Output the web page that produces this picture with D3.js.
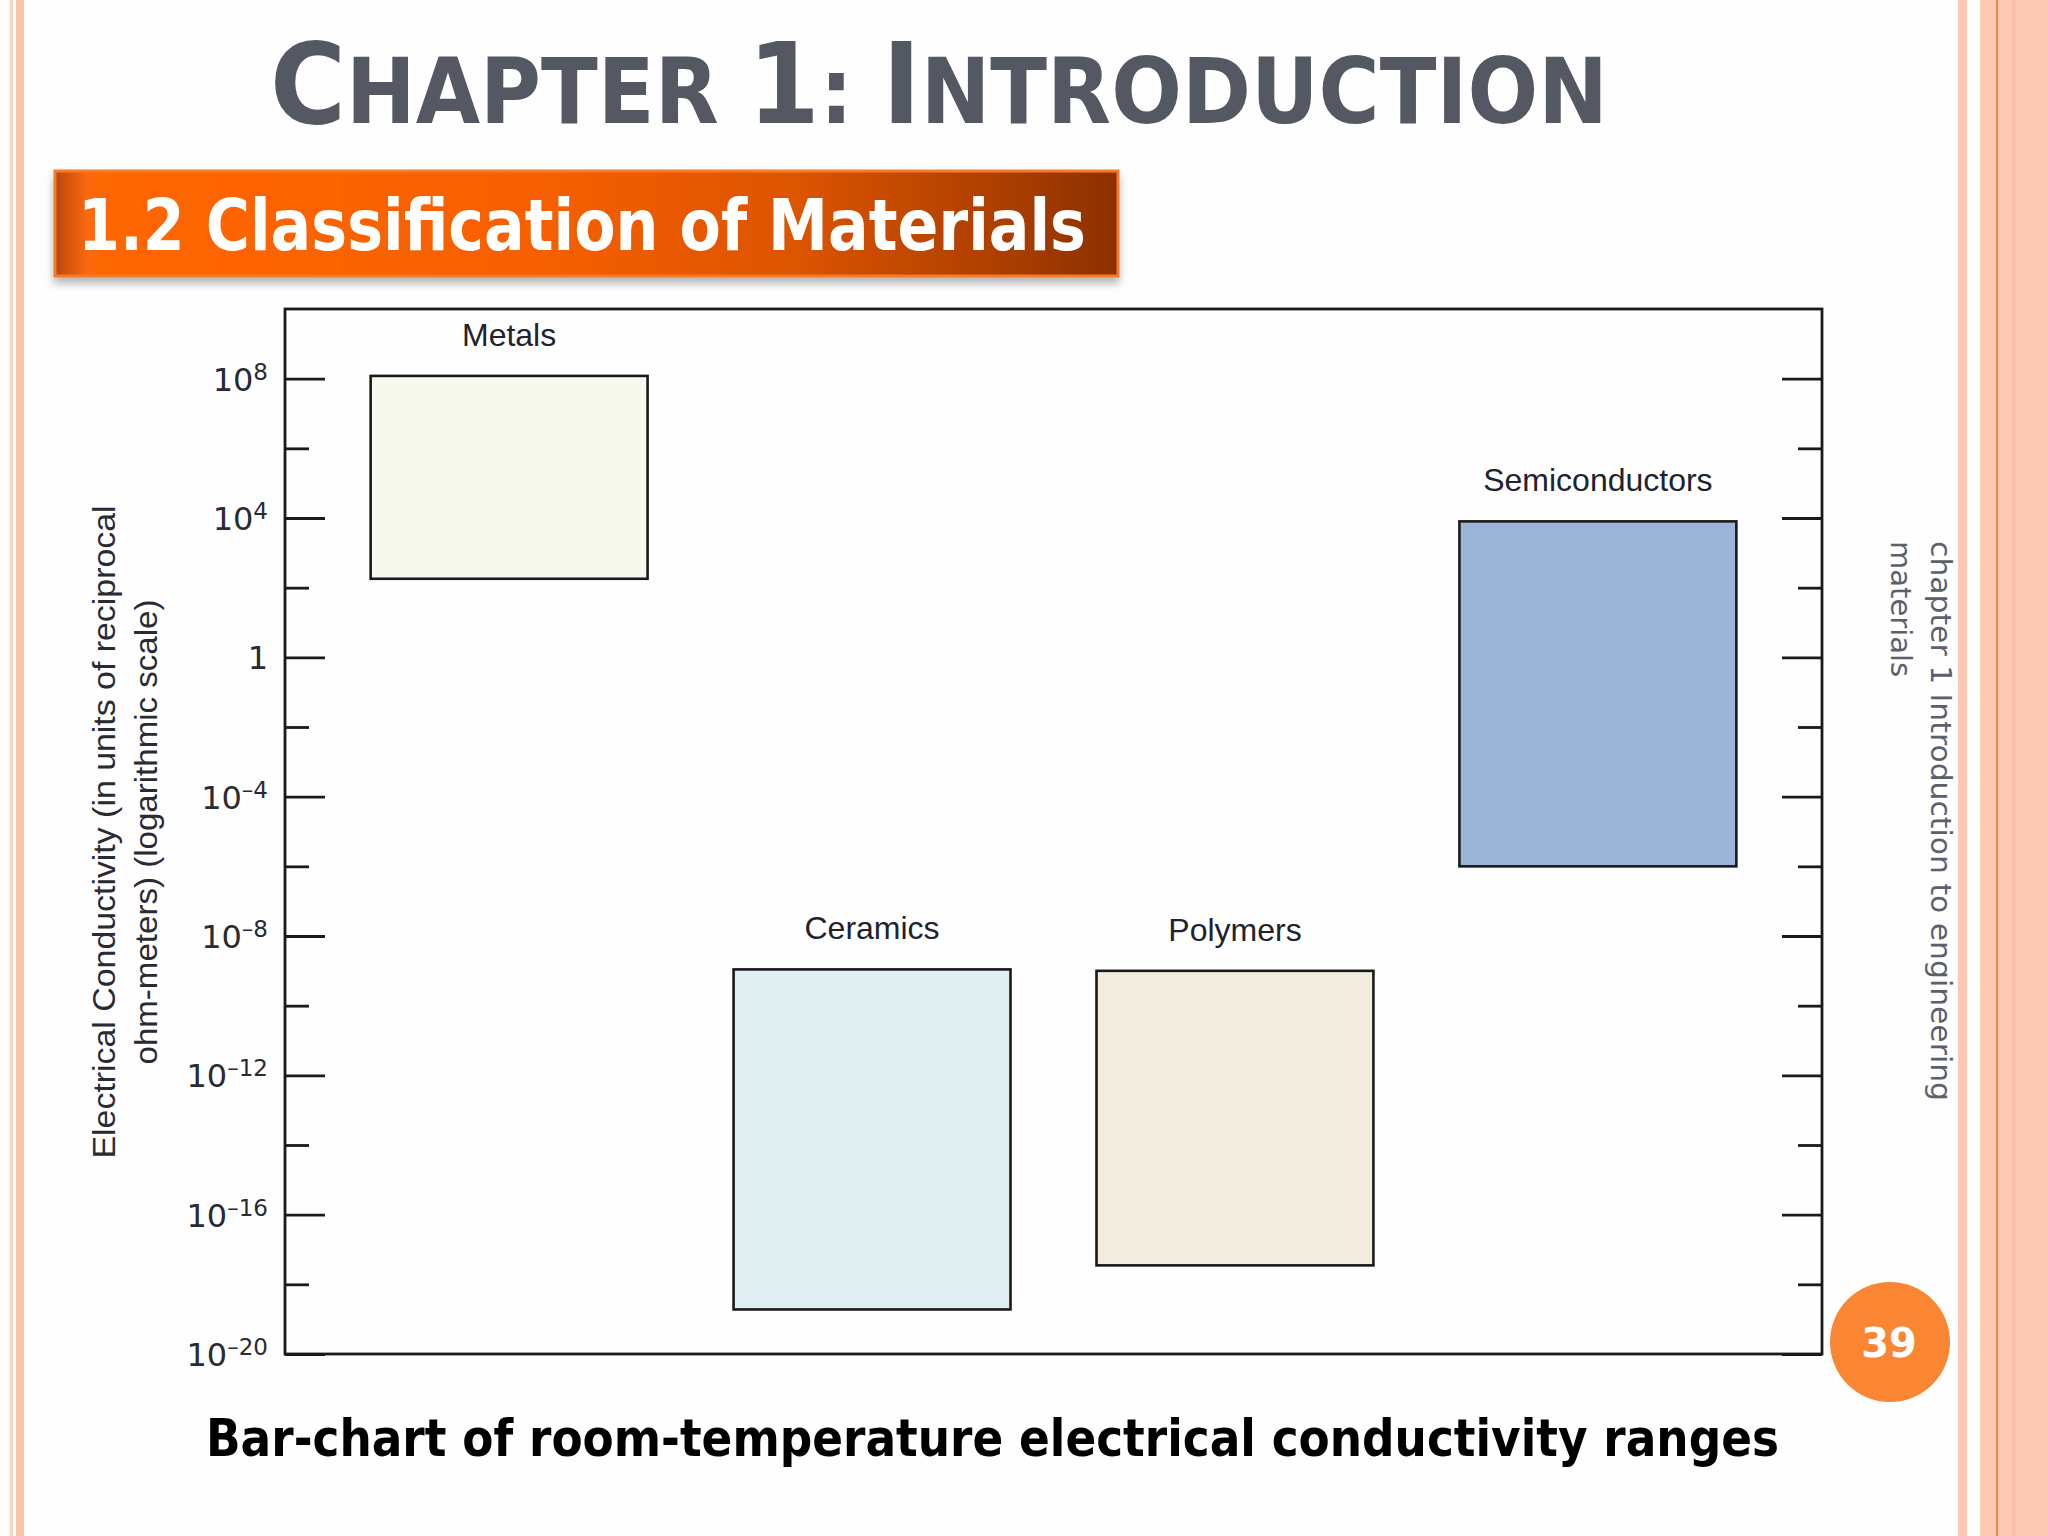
<!DOCTYPE html>
<html>
<head>
<meta charset="utf-8">
<script src="https://cdn.jsdelivr.net/npm/d3@7"></script>
<style>
body { margin: 0; background: #ffffff; }
svg { display: block; }
</style>
</head>
<body>
<svg id="chart"></svg>
<script>
const categories = ["Metals", "Ceramics", "Polymers", "Semiconductors"];
const lowValues = [1.8e2, 1.9e-19, 3.5e-18, 1e-6];
const highValues = [1.2e8, 1.1e-9, 1e-9, 8e3];
const majorTicks = [1e8, 1e4, 1, 1e-4, 1e-8, 1e-12, 1e-16, 1e-20];
const tickBases = ["10", "10", "1", "10", "10", "10", "10", "10"];
const tickExponents = ["8", "4", "", "\u20134", "\u20138", "\u201312", "\u201316", "\u201320"];
const minorTicks = [1e6, 1e2, 1e-2, 1e-6, 1e-10, 1e-14, 1e-18];

function drawChart() {
    const svgWidth = 2048;
    const svgHeight = 1536;
    const plot = { left: 285, right: 1822, top: 309, bottom: 1354 };

    const svg = d3.select("#chart")
        .attr("width", svgWidth)
        .attr("height", svgHeight);

    const defs = svg.append("defs");
    const grad = defs.append("linearGradient").attr("id", "bannerFill");
    [[0, "#b84812"], [0.03, "#fa680a"], [0.06, "#ff6600"], [0.45, "#f76000"],
     [0.7, "#dc5400"], [0.9, "#aa3d00"], [1, "#8b3000"]].forEach(s => {
        grad.append("stop").attr("offset", s[0]).attr("stop-color", s[1]);
    });
    defs.append("filter").attr("id", "shadow")
        .attr("x", "-5%").attr("y", "-20%").attr("width", "110%").attr("height", "150%")
        .append("feDropShadow")
        .attr("dx", 0).attr("dy", 6).attr("stdDeviation", 4)
        .attr("flood-color", "#777").attr("flood-opacity", 0.55);

    // slide frame stripes
    svg.append("rect").attr("width", svgWidth).attr("height", svgHeight).attr("fill", "#fefefe");
    svg.append("rect").attr("x", 10).attr("width", 3).attr("height", svgHeight).attr("fill", "#fbd3c2");
    svg.append("rect").attr("x", 16).attr("width", 8).attr("height", svgHeight).attr("fill", "#f9c3aa");
    svg.append("rect").attr("x", 1958).attr("width", 9).attr("height", svgHeight).attr("fill", "#fcc8b3");
    svg.append("rect").attr("x", 1980).attr("width", 68).attr("height", svgHeight).attr("fill", "#fdcab4");
    svg.append("rect").attr("x", 1996).attr("width", 2).attr("height", svgHeight).attr("fill", "#f5883f");
    svg.append("rect").attr("x", 2012).attr("width", 4).attr("height", svgHeight).attr("fill", "#fbbfa5");

    // title, squeezed horizontally to the slide's width
    const title = svg.append("text")
        .attr("font-family", "DejaVu Sans, Verdana, sans-serif")
        .attr("font-weight", "bold")
        .attr("fill", "#545863");
    [["C", 112], ["HAPTER ", 90], ["1", 112], [": ", 90], ["I", 112], ["NTRODUCTION", 90]].forEach(p => {
        title.append("tspan").attr("font-size", p[1]).text(p[0]);
    });
    const titleScale = 1338 / title.node().getComputedTextLength();
    title.attr("transform", `translate(270,123) scale(${titleScale},1)`);

    // section banner
    svg.append("rect")
        .attr("x", 55).attr("y", 171).attr("width", 1063).attr("height", 105)
        .attr("fill", "url(#bannerFill)")
        .attr("stroke", "#f57a2c").attr("stroke-width", 3)
        .attr("filter", "url(#shadow)");
    svg.append("text")
        .attr("x", 78).attr("y", 250)
        .attr("textLength", 1008).attr("lengthAdjust", "spacingAndGlyphs")
        .attr("font-family", "DejaVu Sans, Verdana, sans-serif")
        .attr("font-weight", "bold").attr("font-size", 71)
        .attr("fill", "#ffffff")
        .text("1.2 Classification of Materials");

    const x = d3.scaleBand()
        .domain(categories)
        .range([plot.left, plot.right])
        .paddingInner(0.237)
        .paddingOuter(0.236);

    const y = d3.scaleLog()
        .domain([1e-20, 1e10])
        .range([plot.bottom, plot.top]);

    const barColors = d3.scaleOrdinal()
        .domain(categories)
        .range(["#f8f9ee", "#e2eff2", "#f2ecdf", "#9db4d9"]);

    const rows = categories.map((c, i) => ({ name: c, low: lowValues[i], high: highValues[i] }));

    const chart = svg.append("g");

    const axisStyle = g => g
        .attr("color", "#1a1a1a")
        .call(g => g.select(".domain").remove())
        .call(g => g.selectAll(".tick line").attr("stroke-width", 2.8))
        .call(g => g.selectAll(".tick text").remove());

    const leftMajor = chart.append("g")
        .attr("transform", `translate(${plot.left},0)`)
        .call(d3.axisLeft(y).tickValues(majorTicks).tickSize(-40).tickFormat(""))
        .call(axisStyle);
    chart.append("g")
        .attr("transform", `translate(${plot.left},0)`)
        .call(d3.axisLeft(y).tickValues(minorTicks).tickSize(-24).tickFormat(""))
        .call(axisStyle);
    chart.append("g")
        .attr("transform", `translate(${plot.right},0)`)
        .call(d3.axisRight(y).tickValues(majorTicks).tickSize(-40).tickFormat(""))
        .call(axisStyle);
    chart.append("g")
        .attr("transform", `translate(${plot.right},0)`)
        .call(d3.axisRight(y).tickValues(minorTicks).tickSize(-24).tickFormat(""))
        .call(axisStyle);

    const tickLabels = leftMajor.selectAll(".tick").append("text")
        .attr("x", -17)
        .attr("dy", "0.36em")
        .attr("text-anchor", "end")
        .attr("font-family", "DejaVu Sans, sans-serif")
        .attr("font-size", 32)
        .attr("fill", "#2a2a33");
    tickLabels.append("tspan").text((d, i) => tickBases[i]);
    tickLabels.append("tspan")
        .attr("font-size", 23)
        .attr("dy", -11)
        .text((d, i) => tickExponents[i]);

    chart.append("rect")
        .attr("x", plot.left).attr("y", plot.top)
        .attr("width", plot.right - plot.left).attr("height", plot.bottom - plot.top)
        .attr("fill", "none").attr("stroke", "#1a1a1a").attr("stroke-width", 2.8);

    chart.selectAll(".bar")
        .data(rows)
        .join("rect")
        .attr("class", "bar")
        .attr("x", d => x(d.name))
        .attr("y", d => y(d.high))
        .attr("width", x.bandwidth())
        .attr("height", d => y(d.low) - y(d.high))
        .attr("fill", d => barColors(d.name))
        .attr("stroke", "#1a1a1a")
        .attr("stroke-width", 2.6);

    chart.selectAll(".barLabel")
        .data(rows)
        .join("text")
        .attr("class", "barLabel")
        .attr("x", d => x(d.name) + x.bandwidth() / 2)
        .attr("y", d => y(d.high) - 30)
        .attr("text-anchor", "middle")
        .attr("font-family", "Liberation Sans, Arial, sans-serif")
        .attr("font-size", 32)
        .attr("fill", "#22222c")
        .text(d => d.name);

    // y-axis title
    const yTitle = chart.append("text")
        .attr("transform", "translate(115,832) rotate(-90)")
        .attr("text-anchor", "middle")
        .attr("font-family", "Liberation Sans, Arial, sans-serif")
        .attr("font-size", 32)
        .attr("fill", "#2a2a33");
    yTitle.append("tspan").attr("x", 0).attr("y", 0)
        .attr("textLength", 653).attr("lengthAdjust", "spacingAndGlyphs")
        .text("Electrical Conductivity (in units of reciprocal");
    yTitle.append("tspan").attr("x", 0).attr("y", 42)
        .attr("textLength", 465).attr("lengthAdjust", "spacingAndGlyphs")
        .text("ohm-meters) (logarithmic scale)");

    // caption
    svg.append("text")
        .attr("x", 206).attr("y", 1456)
        .attr("textLength", 1573).attr("lengthAdjust", "spacingAndGlyphs")
        .attr("font-family", "DejaVu Sans, Verdana, sans-serif")
        .attr("font-weight", "bold").attr("font-size", 52)
        .attr("fill", "#000000")
        .text("Bar-chart of room-temperature electrical conductivity ranges");

    // side note
    const side = svg.append("text")
        .attr("transform", "translate(1931,541) rotate(90)")
        .attr("font-family", "DejaVu Sans, Verdana, sans-serif")
        .attr("font-size", 29)
        .attr("fill", "#5c606b");
    side.append("tspan").attr("x", 0).attr("y", 0)
        .attr("textLength", 560).attr("lengthAdjust", "spacingAndGlyphs")
        .text("chapter 1 Introduction to engineering");
    side.append("tspan").attr("x", 0).attr("y", 40)
        .text("materials");

    // page number
    svg.append("circle")
        .attr("cx", 1890).attr("cy", 1342).attr("r", 60)
        .attr("fill", "#fa8533");
    svg.append("text")
        .attr("x", 1889).attr("y", 1357)
        .attr("text-anchor", "middle")
        .attr("font-family", "DejaVu Sans, Verdana, sans-serif")
        .attr("font-weight", "bold").attr("font-size", 40)
        .attr("fill", "#ffffff")
        .text("39");
}

drawChart();
</script>
</body>
</html>
